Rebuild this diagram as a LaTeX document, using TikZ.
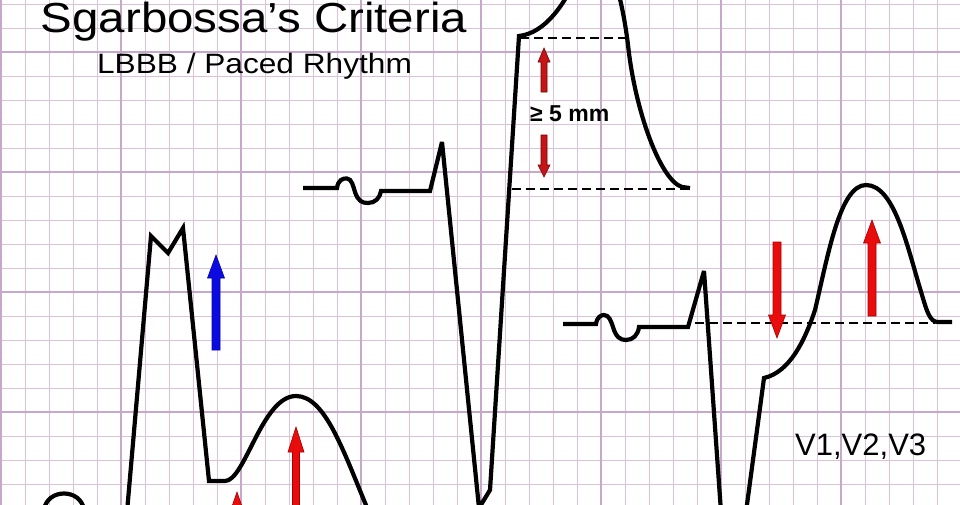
\documentclass[tikz,border=0pt]{standalone}
\usepackage{fontspec}
\setmainfont{Liberation Sans}
\newfontfamily\widefont[FakeStretch=1.13]{Liberation Sans}
\definecolor{gridminor}{RGB}{218,194,218}
\definecolor{gridmajor}{RGB}{200,168,202}
\definecolor{brightred}{RGB}{232,12,12}
\definecolor{brightredline}{RGB}{170,0,0}
\definecolor{darkred}{RGB}{196,22,22}
\definecolor{darkredline}{RGB}{120,0,0}
\definecolor{arrowblue}{RGB}{10,10,225}
\newcommand\blockarr[7]{\draw[#7] ({#1-#5},#2) -- ({#1+#5},#2) -- ({#1+#5},#3) -- ({#1+#6},#3) -- (#1,#4) -- ({#1-#6},#3) -- ({#1-#5},#3) -- cycle;}
\begin{document}
\begin{tikzpicture}[x=1pt,y=-1pt,
  minorgrid/.style={gridminor,line width=0.6pt},
  majorgrid/.style={gridmajor,line width=1.1pt},
  trace/.style={black,line width=4.2pt,miter limit=4},
  refline/.style={black,line width=1.3pt,dash pattern=on 9pt off 5pt},
  redarrow/.style={fill=brightred,draw=brightredline,line width=0.6pt},
  darkarrow/.style={fill=darkred,draw=darkredline,line width=0.6pt},
  bluearrow/.style={fill=arrowblue,draw=arrowblue!70!black,line width=0.6pt},
  label/.style={anchor=base,inner sep=0pt,text=black}]
\fill[white] (0,0) rectangle (960,504);
\useasboundingbox (0,0) rectangle (960,504);
\begin{scope}
\clip (0,0) rectangle (960,504);
% grid
\foreach \i in {0,...,40} {\draw[minorgrid] ({1+24*\i},-5) -- ({1+24*\i},510);}
\foreach \j in {0,...,21} {\draw[minorgrid] (-5,{4+24*\j}) -- (965,{4+24*\j});}
\foreach \i in {0,5,...,40} {\draw[majorgrid] ({1+24*\i},-5) -- ({1+24*\i},510);}
\foreach \j in {2,7,12,17} {\draw[majorgrid] (-5,{4+24*\j}) -- (965,{4+24*\j});}
% left complex
\draw[trace] (44,510) .. controls (47,488) and (81,488) .. (84,510);
\draw[trace] (127,512) -- (151,236) -- (168,253) -- (183,228) -- (209,481) -- (225,481)
  .. controls (245,481) and (262,396) .. (296,396)
  .. controls (325,396) and (343,450) .. (368,510);
% middle complex
\draw[trace] (303,188) -- (337,188) .. controls (338,180) and (343,178) .. (347,178.5)
  .. controls (352,179) and (353,186) .. (355,192)
  .. controls (358,201) and (362,203) .. (368,203)
  .. controls (375,203) and (380,198) .. (381,191) -- (430,191) -- (442,142) -- (479,508)
  -- (490,490) -- (519,36) .. controls (545,33) and (565,5) .. (580,-30) -- (612,-30)
  .. controls (620,-5) and (625,20) .. (628,45)
  .. controls (635,110) and (660,180) .. (682,187) -- (690,188);
% right complex
\draw[trace] (563,324) -- (596,324) .. controls (597,317) and (601,315) .. (604,315)
  .. controls (609,315) and (611,321) .. (613,327)
  .. controls (616,337) and (620,340) .. (626,340)
  .. controls (633,340) and (638,335) .. (639,327) -- (688,327) -- (704,271) -- (721,512)
  -- (746,512) -- (764,378) .. controls (790,372) and (805,340) .. (815,310)
  .. controls (828,255) and (840,185) .. (866,185)
  .. controls (895,185) and (908,250) .. (922,295)
  .. controls (927,312) and (930,322) .. (938,322) -- (952,322);
% reference lines
\draw[refline] (520,38) -- (627,38);
\draw[refline] (512,189) -- (688,189);
\draw[refline] (695,323) -- (935,323);
% arrows
\blockarr{544}{92}{62}{48}{3}{6}{darkarrow}
\blockarr{544}{135}{165}{177}{3}{6}{darkarrow}
\blockarr{777}{242}{315}{338}{4}{8.5}{redarrow}
\blockarr{872}{316}{243}{220}{4}{8.5}{redarrow}
\blockarr{216}{350}{278}{255}{4}{8.5}{bluearrow}
\blockarr{296}{520}{452}{427}{3.5}{8}{redarrow}
\blockarr{237}{600}{515}{492}{3.5}{8}{redarrow}
\end{scope}
% texts
\node[label] (title) at (254,32) {\widefont\fontsize{42}{46}\selectfont Sgarbossa’s Criteria};
\node[label] (subtitle) at (254.5,73) {\widefont\fontsize{28}{32}\selectfont LBBB / Paced Rhythm};
\node[label,anchor=base west] (mm) at (530,121) {\fontsize{23}{26}\selectfont\bfseries ≥ 5 mm};
\node[label,anchor=base west] (leads) at (795,455) {\fontsize{31}{34}\selectfont V1,V2,V3};
\end{tikzpicture}
\end{document}
